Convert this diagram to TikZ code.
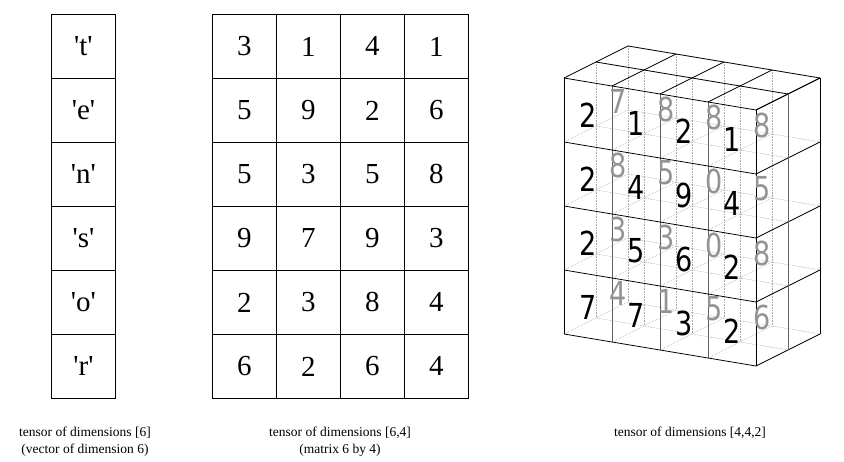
\documentclass[tikz,border=0pt]{standalone}
\usepackage{fontspec}
\setmainfont{Liberation Serif}
\newfontfamily\numfont{DejaVu Sans}
\newcommand{\qq}[1]{\textquotesingle#1\textquotesingle}
\begin{document}
\begin{tikzpicture}[x=1pt,y=-1pt,
  cell/.style={draw=black,line width=0.9pt,minimum width=64pt,minimum height=64pt,inner sep=0pt,font=\fontsize{29}{30}\selectfont,anchor=north west},
  captxt/.style={font=\fontsize{13.5}{17}\selectfont,align=center},
  blk/.style={font=\numfont\fontsize{33}{33}\selectfont,text=black,inner sep=0pt,xscale=0.82,transform shape},
  gry/.style={font=\numfont\fontsize{33}{33}\selectfont,text=gray!85,inner sep=0pt,xscale=0.82,transform shape},
  hid/.style={gray!70,densely dotted,line width=0.6pt},
  edg/.style={black,line width=0.8pt},
  sepline/.style={gray!75!black,line width=1pt}]
\useasboundingbox (0,0) rectangle (844,462);
% vector
\foreach \t [count=\r from 0] in {t,e,n,s,o,r}
  \node[cell] (v\r) at (51,14+64*\r) {\qq{\t}};
% matrix
\foreach \row [count=\r from 0] in {{3,1,4,1},{5,9,2,6},{5,3,5,8},{9,7,9,3},{2,3,8,4},{6,2,6,4}}
  \foreach \v [count=\c from 0] in \row
    \node[cell] (m\r\c) at (212+64*\c,14+64*\r) {\v};
% captions
\node[captxt] (c1) at (85,442) {tensor of dimensions [6]\\(vector of dimension 6)};
\node[captxt] (c2) at (340,442) {tensor of dimensions [6,4]\\(matrix 6 by 4)};
\node[captxt] (c3) at (690,433) {tensor of dimensions [4,4,2]};
% 3D tensor: P(i,j,k)
\foreach \i in {0,...,4} \foreach \j in {0,...,4} \foreach \k in {0,1,2}
  \coordinate (p\i\j\k) at ({564+48*\i+32*\k},{78+8*\i+64*\j-16*\k});
% hidden dotted grid
\foreach \k in {1,2}{
  \foreach \i in {0,...,4} \draw[hid] (p\i0\k) -- (p\i4\k);
  \foreach \j in {0,...,4} \draw[hid] (p0\j\k) -- (p4\j\k);}
\foreach \i in {0,...,4} \foreach \j in {1,...,4} \draw[hid] (p\i\j0) -- (p\i\j2);
% front face
\foreach \i in {1,2,3} \draw[sepline] (p\i00) -- (p\i40);
\foreach \j in {0,...,4} \draw[edg] (p0\j0) -- (p4\j0);
\draw[edg] (p000) -- (p040);
\draw[edg] (p400) -- (p440);
% top face
\foreach \i in {0,...,4} \draw[edg] (p\i00) -- (p\i02);
\foreach \k in {1,2} \draw[edg] (p00\k) -- (p40\k);
% right face
\foreach \j in {0,...,4} \draw[edg] (p4\j0) -- (p4\j2);
\draw[sepline] (p401) -- (p441);
\draw[edg] (p402) -- (p442);
% numbers
\foreach \row [count=\j from 0] in {{2,1,2,1},{2,4,9,4},{2,5,6,2},{7,7,3,2}}
  \foreach \v [count=\i from 0] in \row
    \node[blk] (f\j\i) at ({564+48*\i+24},{78+8*\i+64*\j+32+5}) {\v};
\foreach \row [count=\j from 0] in {{7,8,8,8},{8,5,0,5},{3,3,0,8},{4,1,5,6}}
  \foreach \v [count=\i from 1] in \row
    \node[gry] (b\j\i) at ({564+48*\i+24-18},{78+8*\i+64*\j+32-17}) {\v};
\end{tikzpicture}
\end{document}
